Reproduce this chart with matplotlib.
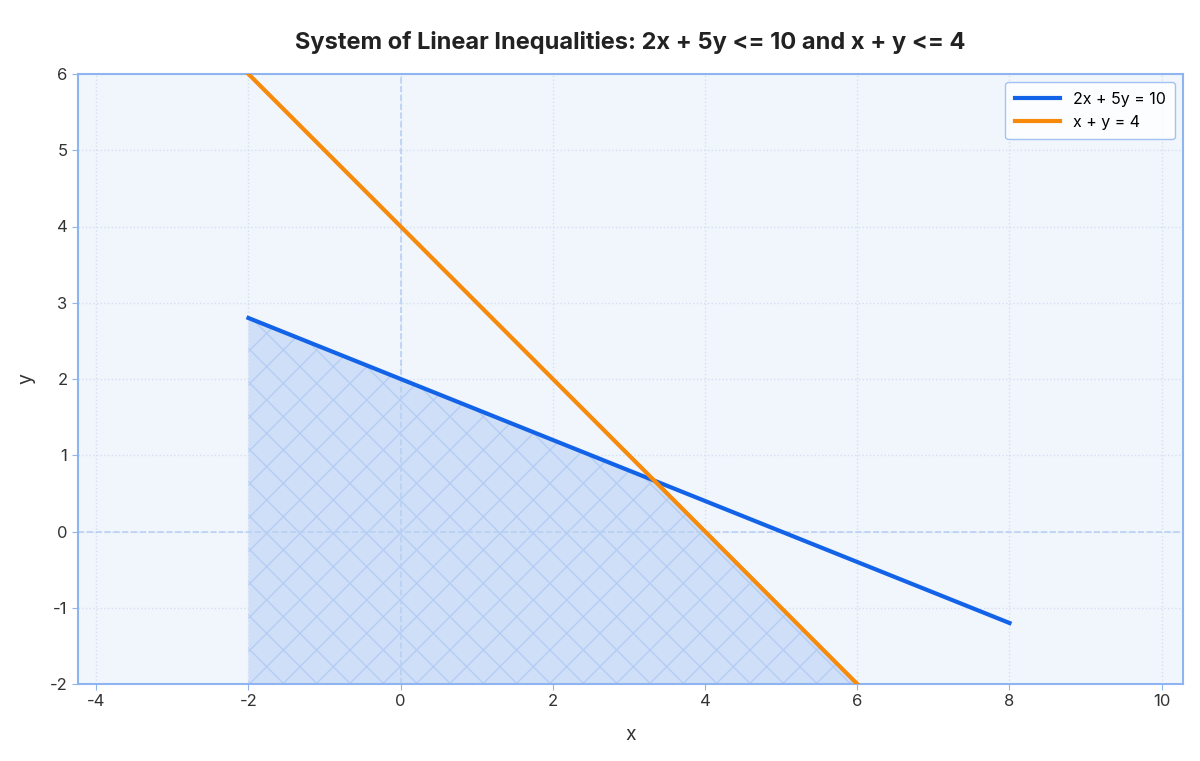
import numpy as np
import matplotlib
matplotlib.use("Agg")
import matplotlib.pyplot as plt

plt.rcParams['font.family'] = ['Inter', 'DejaVu Sans']
plt.rcParams['axes.unicode_minus'] = False
plt.rcParams['hatch.linewidth'] = 1.0

x_line1 = [-2, 8]
x_line2 = [-2, 6]
label1 = "2x + 5y = 10"
label2 = "x + y = 4"
x_fill = np.linspace(-2, 6, 401)

def y1(x): return (10 - 2 * np.asarray(x)) / 5
def y2(x): return 4 - np.asarray(x)

fig = plt.figure(figsize=(12, 7.61), dpi=100)
ax = fig.add_axes([78/1200, 1-684/761, (1183-78)/1200, (684-74)/761])
ax.set_facecolor('#f1f6fd')
ax.set_xlim(-4.24, 10.28)
ax.set_ylim(-2, 6)

ytop = np.minimum(y1(x_fill), y2(x_fill))
ax.fill_between(x_fill, -2, ytop, facecolor='#cfdff8', edgecolor='#b5cdf5', hatch='x', linewidth=0)

ax.plot(x_line1, y1(x_line1), color='#1363e8', lw=3, label=label1, zorder=3)
ax.plot(x_line2, y2(x_line2), color='#f78a0a', lw=3, label=label2, zorder=3)
ax.axhline(0, color='#b9d0f3', ls='--', lw=1.2, zorder=1)
ax.axvline(0, color='#b9d0f3', ls='--', lw=1.2, zorder=1)

ax.set_xticks(range(-4, 11, 2))
ax.set_yticks(range(-2, 7))
ax.grid(True, ls=':', color='#d5dff0', lw=1)
ax.set_axisbelow(True)
for s in ax.spines.values():
    s.set_color('#8fb5f0'); s.set_linewidth(1.5)
ax.tick_params(colors='#333333', labelsize=12, length=4, color='#8fb5f0')
ax.set_xlabel('x', fontsize=14, color='#333333', labelpad=12)
ax.set_ylabel('y', fontsize=14, color='#333333', labelpad=10)
ax.set_title('System of Linear Inequalities: 2x + 5y <= 10 and x + y <= 4',
             fontsize=17, fontweight='bold', color='#222222', pad=18)
leg = ax.legend(loc='upper right', fontsize=11.5, frameon=True, edgecolor='#8fb5f0',
                facecolor='white', handlelength=2.8, borderpad=0.6)
fig.savefig('out.png', dpi=100)
